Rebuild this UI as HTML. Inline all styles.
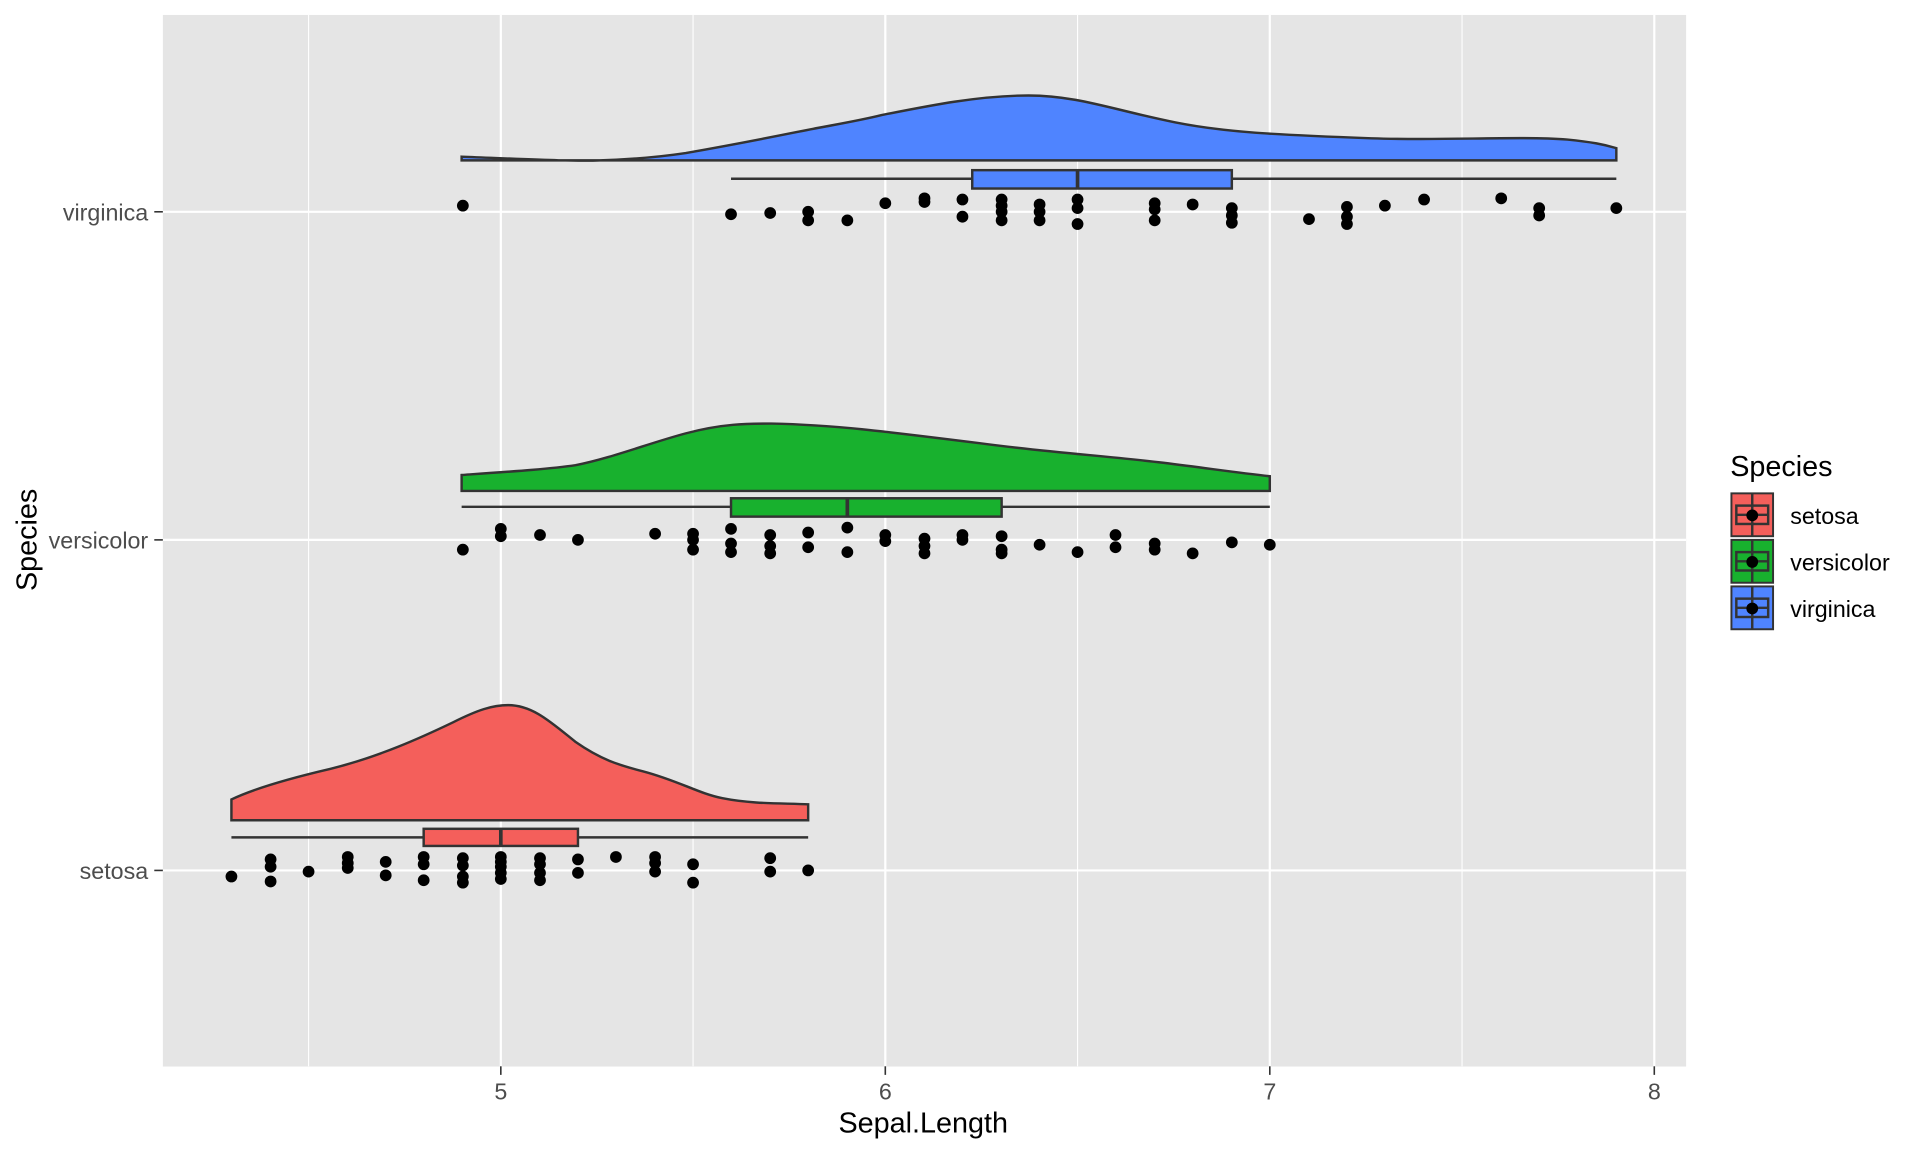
<!DOCTYPE html>
<html><head><meta charset="utf-8"><style>
html,body{margin:0;padding:0;background:#fff;width:1920px;height:1152px;overflow:hidden}
svg{display:block}
text{font-family:"Liberation Sans",Arial,sans-serif}
</style></head><body>
<svg width="1920" height="1152" viewBox="0 0 1568 941" preserveAspectRatio="none" xmlns="http://www.w3.org/2000/svg">
<rect x="0" y="0" width="1568" height="941" fill="#fff"/>
<rect x="133" y="12.2" width="1244" height="859" fill="#e5e5e5"/>
<g stroke="#fff" stroke-width="0.9">
<line x1="252" y1="12.2" x2="252" y2="871"/><line x1="566" y1="12.2" x2="566" y2="871"/>
<line x1="880" y1="12.2" x2="880" y2="871"/><line x1="1194" y1="12.2" x2="1194" y2="871"/>
</g>
<g stroke="#fff" stroke-width="1.8">
<line x1="409" y1="12.2" x2="409" y2="871"/><line x1="723" y1="12.2" x2="723" y2="871"/>
<line x1="1037" y1="12.2" x2="1037" y2="871"/><line x1="1351" y1="12.2" x2="1351" y2="871"/>
<line x1="133" y1="173" x2="1377" y2="173"/><line x1="133" y1="441" x2="1377" y2="441"/><line x1="133" y1="711" x2="1377" y2="711"/>
</g>
<g stroke="#333" stroke-width="2">
<path fill="#4f84ff" d="M377,131 L377,128 C430,130 470,132 490,131 C520,130 540,128 560,125 C600,118 630,112 650,108 C680,102 700,99 720,94 C760,86 800,78 840,78 C880,78 910,90 960,100 C1000,108 1040,110 1120,113 C1180,115 1240,111 1280,114 C1300,116 1310,118 1320,121 L1320,131 Z"/>
<line x1="597" y1="146" x2="1320" y2="146"/>
<rect x="794" y="139" width="212" height="15" fill="#4f84ff"/>
<line x1="880" y1="139" x2="880" y2="154" stroke-width="3"/>
<path fill="#18b12e" d="M377,401 L377,388 C420,385 450,383 470,380 C500,374 530,362 560,354 C590,346 610,346 630,346 C680,347 720,352 800,362 C860,370 900,372 950,378 C990,383 1010,386 1037,389 L1037,401 Z"/>
<line x1="377" y1="414" x2="1037" y2="414"/>
<rect x="597" y="407" width="221" height="15" fill="#18b12e"/>
<line x1="692" y1="407" x2="692" y2="422" stroke-width="3"/>
<path fill="#f45f5b" d="M189,670 L189,653 C210,643 240,635 270,628 C310,618 345,602 370,590 C390,580 402,576 415,576 C435,576 450,590 470,606 C490,620 505,625 525,630 C555,638 570,648 590,652 C615,657 640,656 660,657 L660,670 Z"/>
<line x1="189" y1="684" x2="660" y2="684"/>
<rect x="346" y="677" width="126" height="14" fill="#f45f5b"/>
<line x1="409" y1="677" x2="409" y2="691" stroke-width="3"/>
</g>
<g fill="#000">
<circle cx="189" cy="716" r="4.8"/><circle cx="221" cy="702" r="4.8"/><circle cx="221" cy="708" r="4.8"/><circle cx="221" cy="720" r="4.8"/><circle cx="252" cy="712" r="4.8"/><circle cx="284" cy="700" r="4.8"/><circle cx="284" cy="705" r="4.8"/><circle cx="284" cy="709" r="4.8"/><circle cx="315" cy="704" r="4.8"/><circle cx="315" cy="715" r="4.8"/><circle cx="346" cy="700" r="4.8"/><circle cx="346" cy="706" r="4.8"/><circle cx="346" cy="719" r="4.8"/><circle cx="378" cy="701" r="4.8"/><circle cx="378" cy="707" r="4.8"/><circle cx="378" cy="716" r="4.8"/><circle cx="378" cy="721" r="4.8"/><circle cx="409" cy="700" r="4.8"/><circle cx="409" cy="704" r="4.8"/><circle cx="409" cy="708" r="4.8"/><circle cx="409" cy="713" r="4.8"/><circle cx="409" cy="718" r="4.8"/><circle cx="441" cy="701" r="4.8"/><circle cx="441" cy="706" r="4.8"/><circle cx="441" cy="713" r="4.8"/><circle cx="441" cy="719" r="4.8"/><circle cx="472" cy="702" r="4.8"/><circle cx="472" cy="713" r="4.8"/><circle cx="503" cy="700" r="4.8"/><circle cx="535" cy="700" r="4.8"/><circle cx="535" cy="705" r="4.8"/><circle cx="535" cy="712" r="4.8"/><circle cx="566" cy="706" r="4.8"/><circle cx="566" cy="721" r="4.8"/><circle cx="629" cy="701" r="4.8"/><circle cx="629" cy="712" r="4.8"/><circle cx="660" cy="711" r="4.8"/>
<circle cx="378" cy="449" r="4.8"/><circle cx="409" cy="432" r="4.8"/><circle cx="409" cy="438" r="4.8"/><circle cx="441" cy="437" r="4.8"/><circle cx="472" cy="441" r="4.8"/><circle cx="535" cy="436" r="4.8"/><circle cx="566" cy="436" r="4.8"/><circle cx="566" cy="441" r="4.8"/><circle cx="566" cy="449" r="4.8"/><circle cx="597" cy="432" r="4.8"/><circle cx="597" cy="444" r="4.8"/><circle cx="597" cy="451" r="4.8"/><circle cx="629" cy="437" r="4.8"/><circle cx="629" cy="446" r="4.8"/><circle cx="629" cy="452" r="4.8"/><circle cx="660" cy="435" r="4.8"/><circle cx="660" cy="447" r="4.8"/><circle cx="692" cy="431" r="4.8"/><circle cx="692" cy="451" r="4.8"/><circle cx="723" cy="437" r="4.8"/><circle cx="723" cy="442" r="4.8"/><circle cx="755" cy="440" r="4.8"/><circle cx="755" cy="446" r="4.8"/><circle cx="755" cy="452" r="4.8"/><circle cx="786" cy="437" r="4.8"/><circle cx="786" cy="441" r="4.8"/><circle cx="818" cy="438" r="4.8"/><circle cx="818" cy="449" r="4.8"/><circle cx="818" cy="452" r="4.8"/><circle cx="849" cy="445" r="4.8"/><circle cx="880" cy="451" r="4.8"/><circle cx="911" cy="437" r="4.8"/><circle cx="911" cy="447" r="4.8"/><circle cx="943" cy="444" r="4.8"/><circle cx="943" cy="449" r="4.8"/><circle cx="974" cy="452" r="4.8"/><circle cx="1006" cy="443" r="4.8"/><circle cx="1037" cy="445" r="4.8"/>
<circle cx="378" cy="168" r="4.8"/><circle cx="597" cy="175" r="4.8"/><circle cx="629" cy="174" r="4.8"/><circle cx="660" cy="173" r="4.8"/><circle cx="660" cy="180" r="4.8"/><circle cx="692" cy="180" r="4.8"/><circle cx="723" cy="166" r="4.8"/><circle cx="755" cy="162" r="4.8"/><circle cx="755" cy="165" r="4.8"/><circle cx="786" cy="163" r="4.8"/><circle cx="786" cy="177" r="4.8"/><circle cx="818" cy="163" r="4.8"/><circle cx="818" cy="168" r="4.8"/><circle cx="818" cy="173" r="4.8"/><circle cx="818" cy="180" r="4.8"/><circle cx="849" cy="167" r="4.8"/><circle cx="849" cy="173" r="4.8"/><circle cx="849" cy="180" r="4.8"/><circle cx="880" cy="163" r="4.8"/><circle cx="880" cy="170" r="4.8"/><circle cx="880" cy="183" r="4.8"/><circle cx="943" cy="166" r="4.8"/><circle cx="943" cy="171" r="4.8"/><circle cx="943" cy="180" r="4.8"/><circle cx="974" cy="167" r="4.8"/><circle cx="1006" cy="170" r="4.8"/><circle cx="1006" cy="176" r="4.8"/><circle cx="1006" cy="182" r="4.8"/><circle cx="1069" cy="179" r="4.8"/><circle cx="1100" cy="169" r="4.8"/><circle cx="1100" cy="177" r="4.8"/><circle cx="1100" cy="183" r="4.8"/><circle cx="1131" cy="168" r="4.8"/><circle cx="1163" cy="163" r="4.8"/><circle cx="1226" cy="162" r="4.8"/><circle cx="1257" cy="170" r="4.8"/><circle cx="1257" cy="176" r="4.8"/><circle cx="1320" cy="170" r="4.8"/>
</g>
<g stroke="#333" stroke-width="1.3">
<line x1="126" y1="173" x2="133" y2="173"/><line x1="126" y1="441" x2="133" y2="441"/><line x1="126" y1="711" x2="133" y2="711"/>
<line x1="409" y1="871" x2="409" y2="878"/><line x1="723" y1="871" x2="723" y2="878"/><line x1="1037" y1="871" x2="1037" y2="878"/><line x1="1351" y1="871" x2="1351" y2="878"/>
</g>
<g fill="#4d4d4d" font-size="19">
<text x="121" y="180" text-anchor="end">virginica</text>
<text x="121" y="448" text-anchor="end">versicolor</text>
<text x="121" y="718" text-anchor="end">setosa</text>
<text x="409" y="898" text-anchor="middle">5</text>
<text x="723" y="898" text-anchor="middle">6</text>
<text x="1037" y="898" text-anchor="middle">7</text>
<text x="1351" y="898" text-anchor="middle">8</text>
</g>
<text x="754" y="925" text-anchor="middle" font-size="23.5" fill="#000">Sepal.Length</text>
<text transform="translate(30,441) rotate(-90)" text-anchor="middle" font-size="23.5" fill="#000">Species</text>
<text x="1413" y="389" font-size="23.5" fill="#000">Species</text>
<g stroke="#333" stroke-width="1.6">
<rect x="1414" y="403" width="34" height="35" fill="#f45f5b"/>
<rect x="1414" y="441" width="34" height="35" fill="#18b12e"/>
<rect x="1414" y="479" width="34" height="35" fill="#4f84ff"/>
</g>
<g stroke="#333" stroke-width="2" fill="none">
<rect x="1418" y="413" width="26" height="15"/><line x1="1431" y1="403" x2="1431" y2="438"/><line x1="1418" y1="420.5" x2="1444" y2="420.5"/>
<rect x="1418" y="451" width="26" height="15"/><line x1="1431" y1="441" x2="1431" y2="476"/><line x1="1418" y1="458.5" x2="1444" y2="458.5"/>
<rect x="1418" y="489" width="26" height="15"/><line x1="1431" y1="479" x2="1431" y2="514"/><line x1="1418" y1="496.5" x2="1444" y2="496.5"/>
</g>
<circle cx="1431" cy="421" r="4.8"/><circle cx="1431" cy="459" r="4.8"/><circle cx="1431" cy="497" r="4.8"/>
<g font-size="19" fill="#000">
<text x="1462" y="428">setosa</text>
<text x="1462" y="466">versicolor</text>
<text x="1462" y="504">virginica</text>
</g>
</svg>
</body></html>
